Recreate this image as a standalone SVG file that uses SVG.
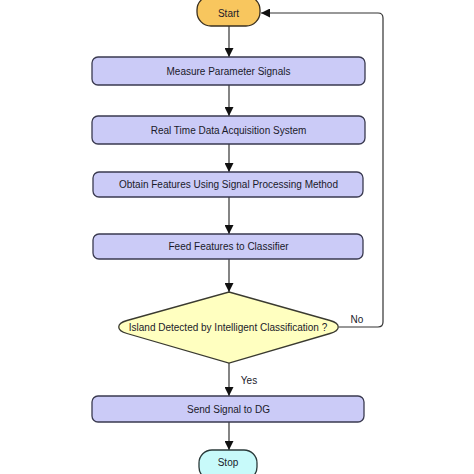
<svg xmlns="http://www.w3.org/2000/svg" width="474" height="474" viewBox="0 0 474 474">
<defs>
<style>
.box{fill:#cbcbf7;stroke:#3a3a50;stroke-width:1.3}
.t{font-family:"Liberation Sans",Arial,sans-serif;font-size:10px;fill:#1a1a2a;text-anchor:middle;dominant-baseline:central}
.c{fill:none;stroke:#333;stroke-width:1.2}
</style>
<marker id="ah" viewBox="0 0 10 10" refX="10" refY="5" markerWidth="9" markerHeight="9" markerUnits="userSpaceOnUse" orient="auto"><path d="M0,0 L10,5 L0,10 z" fill="#111"/></marker>
</defs>
<rect width="474" height="474" fill="#fff"/>
<g id="connectors">
<line class="c" x1="229" y1="26" x2="229" y2="57" marker-end="url(#ah)"/>
<line class="c" x1="229" y1="85" x2="229" y2="116" marker-end="url(#ah)"/>
<line class="c" x1="229" y1="144" x2="229" y2="172" marker-end="url(#ah)"/>
<line class="c" x1="229" y1="197" x2="229" y2="234" marker-end="url(#ah)"/>
<line class="c" x1="229" y1="259" x2="229" y2="292" marker-end="url(#ah)"/>
<line class="c" x1="229" y1="363" x2="229" y2="396" marker-end="url(#ah)"/>
<line class="c" x1="229" y1="422" x2="229" y2="450" marker-end="url(#ah)"/>
<path class="c" d="M339,327 H378 Q383,327 383,322 V18 Q383,13 378,13 H261" marker-end="url(#ah)"/>
<text class="t" x="357" y="319">No</text>
<text class="t" x="249" y="380">Yes</text>
</g>
<g id="start">
<rect x="197" y="-4" width="63" height="30" rx="14" fill="#f8c65e" stroke="#3a3020" stroke-width="1.3"/>
<text class="t" x="228.5" y="13">Start</text>
</g>
<g id="measure">
<rect class="box" x="92" y="57" width="273" height="28" rx="6"/>
<text class="t" x="228.5" y="71.5">Measure Parameter Signals</text>
</g>
<g id="acquisition">
<rect class="box" x="92" y="116" width="273" height="28" rx="6"/>
<text class="t" x="228.5" y="130">Real Time Data Acquisition System</text>
</g>
<g id="features">
<rect class="box" x="93" y="172" width="270" height="25" rx="6"/>
<text class="t" x="228.5" y="184.5">Obtain Features Using Signal Processing Method</text>
</g>
<g id="classifier">
<rect class="box" x="93" y="234" width="270" height="25" rx="6"/>
<text class="t" x="228.5" y="246.5">Feed Features to Classifier</text>
</g>
<g id="decision">
<path d="M229,292 L330,320.5 C341,323.5 341,330.5 330,333.5 L229,363 L127,333.5 C116,330.5 116,323.5 127,320.5 Z" fill="#ffffc0" stroke="#3a3a30" stroke-width="1.3"/>
<text class="t" x="228" y="327">Island Detected by Intelligent Classification ?</text>
</g>
<g id="send">
<rect class="box" x="92" y="396" width="272" height="26" rx="6"/>
<text class="t" x="228.5" y="409">Send Signal to DG</text>
</g>
<g id="stop">
<rect x="199" y="450" width="58" height="30" rx="13" fill="#c8fafa" stroke="#2a3a3a" stroke-width="1.3"/>
<text class="t" x="228" y="462">Stop</text>
</g>
</svg>
